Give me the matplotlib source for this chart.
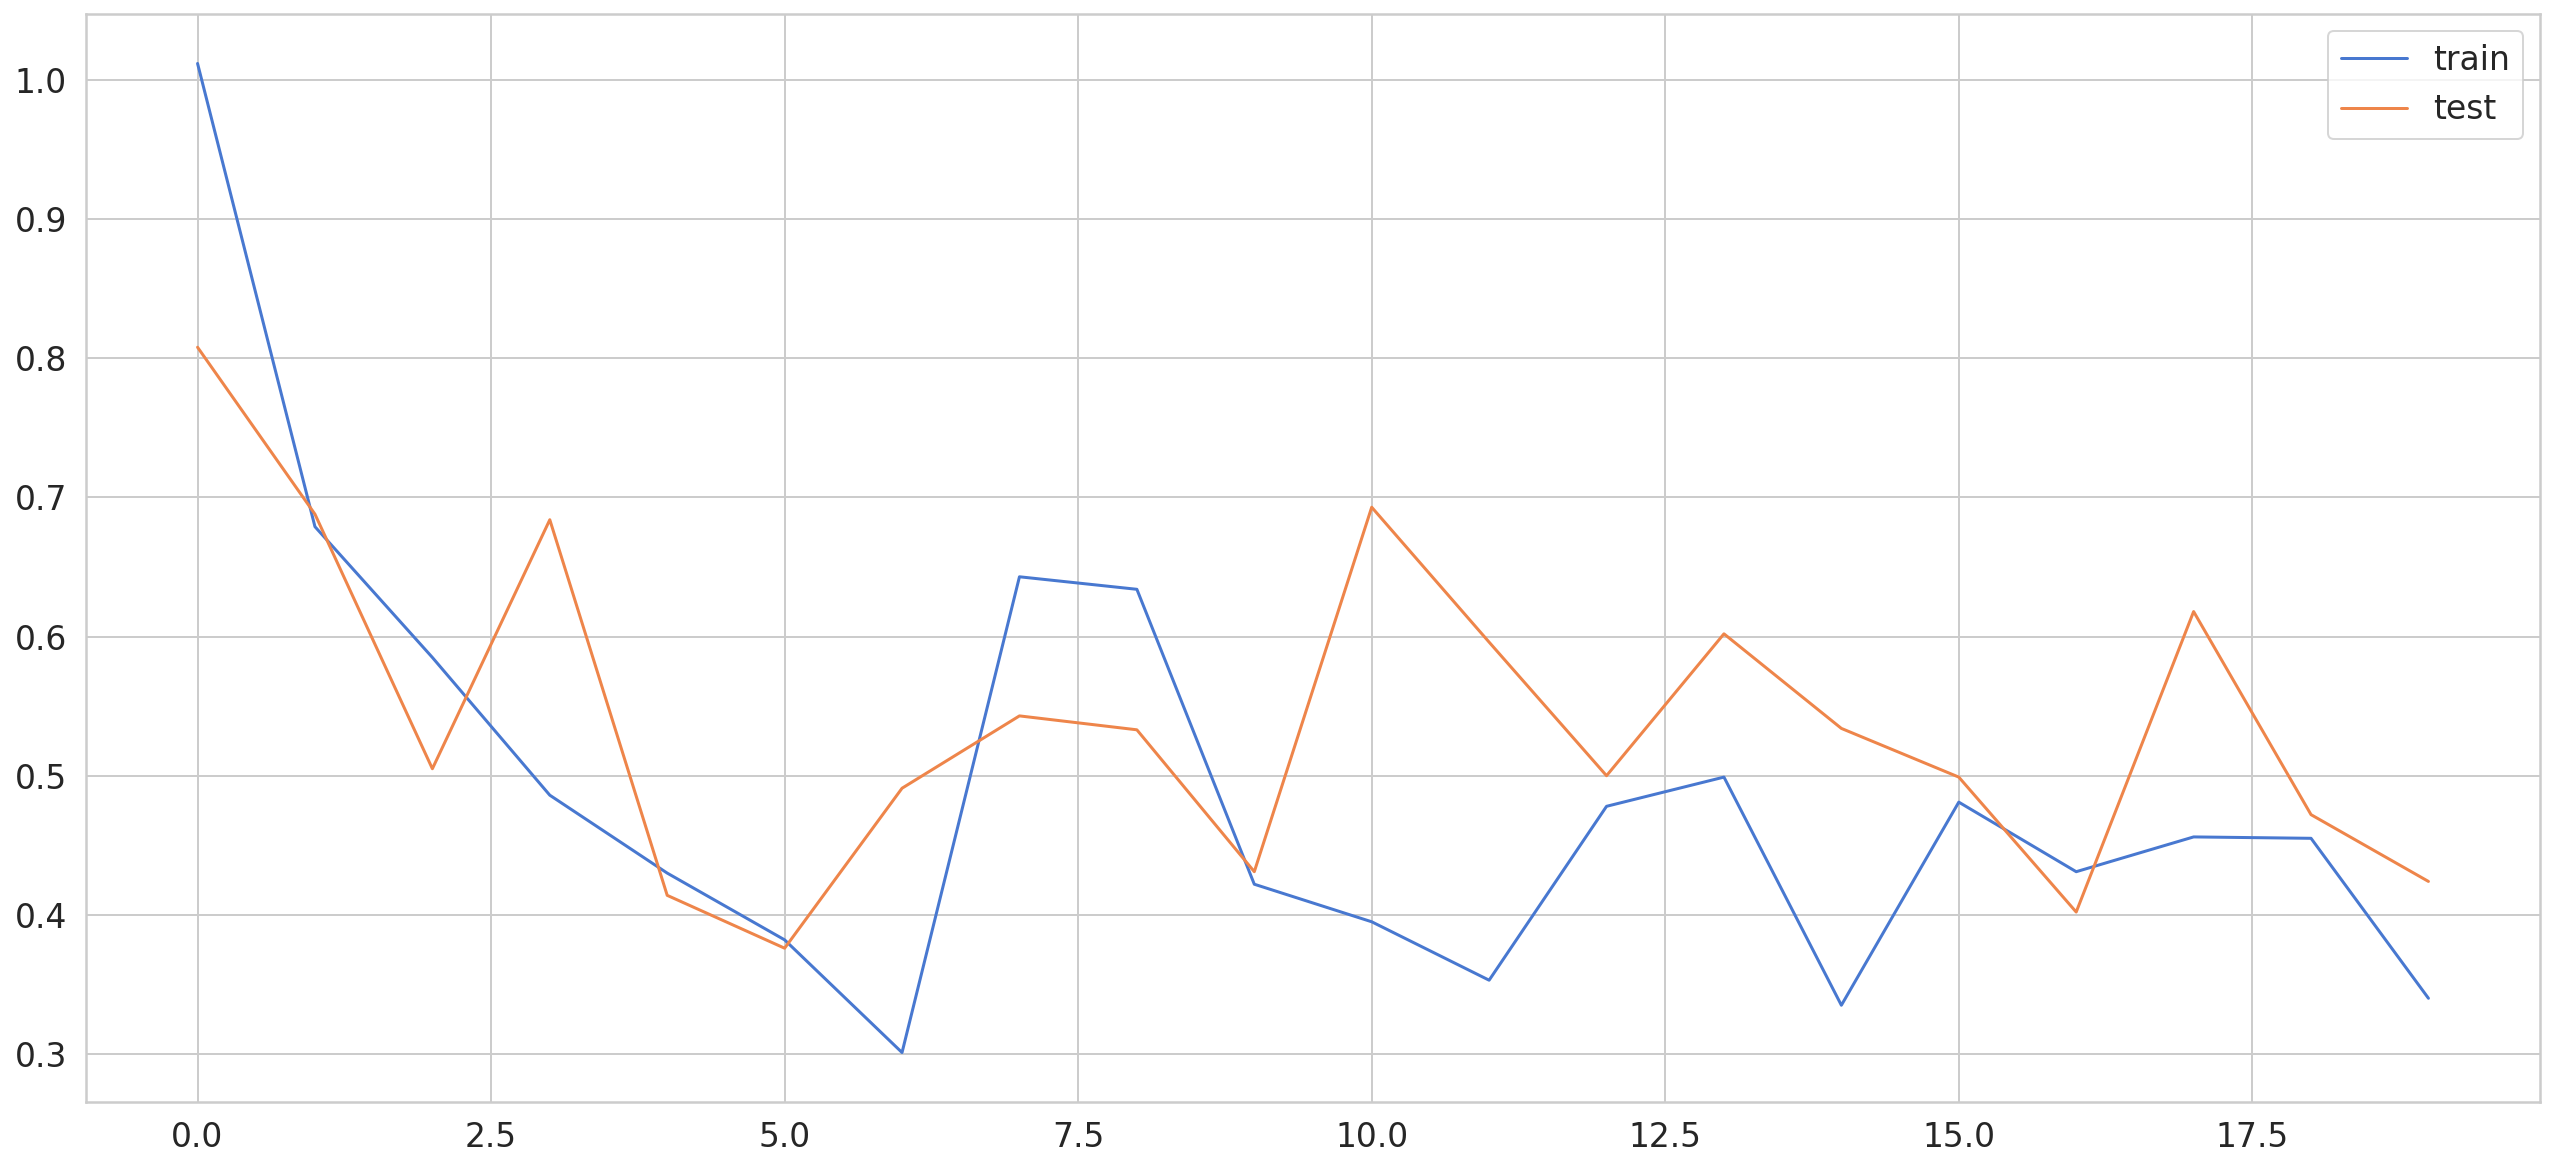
import matplotlib
matplotlib.use("Agg")
import matplotlib.pyplot as plt
import seaborn as sns

# значения по эпохам
epochs = list(range(20))
train_loss = [1.012, 0.679, 0.585, 0.486, 0.430, 0.382, 0.301, 0.643, 0.634, 0.422,
              0.395, 0.353, 0.478, 0.499, 0.335, 0.481, 0.431, 0.456, 0.455, 0.340]
test_loss = [0.808, 0.688, 0.505, 0.684, 0.414, 0.376, 0.491, 0.543, 0.533, 0.431,
             0.693, 0.596, 0.500, 0.602, 0.534, 0.499, 0.402, 0.618, 0.472, 0.424]

sns.set_theme(style="whitegrid", palette="muted", font_scale=1.5)

fig = plt.figure(figsize=(2555 / 144, 1168 / 144), dpi=144)
ax = fig.add_subplot(111)
fig.subplots_adjust(left=86 / 2555, right=2540 / 2555, top=1 - 14 / 1168, bottom=1 - 1102 / 1168)

ax.plot(epochs, train_loss, label="train")
ax.plot(epochs, test_loss, label="test")
ax.legend(loc="upper right")

fig.savefig("out.png", dpi=144)
